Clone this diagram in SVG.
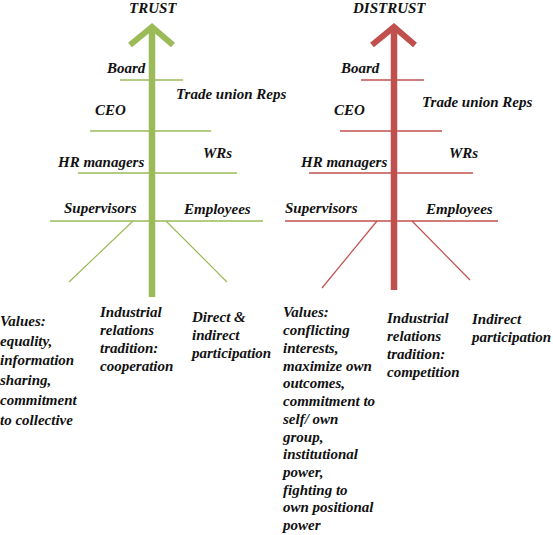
<svg xmlns="http://www.w3.org/2000/svg" width="553" height="535" viewBox="0 0 553 535">
<style>
text{font-family:"Liberation Serif","Times New Roman",serif;font-weight:bold;font-style:italic;font-size:15px;fill:#111}
.g{stroke:#9bbb59;fill:none}
.r{stroke:#c0504d;fill:none}
.shaft{stroke-width:6.5}
.head{stroke-width:6}
.thin{stroke-width:1.4}
.diag{stroke-width:1.2}
</style>
<rect width="553" height="535" fill="#fff"/>
<g id="connectors">
  <g id="trust-arrow" class="g">
    <line class="shaft" x1="152" y1="297" x2="152" y2="30"/>
    <polyline class="head" points="130,45 152,27 173,45"/>
    <line class="thin" x1="120" y1="80" x2="183" y2="80"/>
    <line class="thin" x1="90" y1="131" x2="211" y2="131"/>
    <line class="thin" x1="78" y1="173" x2="237" y2="173"/>
    <line class="thin" x1="50" y1="221" x2="263" y2="221"/>
    <line class="diag" x1="133" y1="221" x2="69" y2="282"/>
    <line class="diag" x1="166" y1="221" x2="227" y2="282"/>
  </g>
  <g id="distrust-arrow" class="r">
    <line class="shaft" x1="394" y1="290" x2="394" y2="30"/>
    <polyline class="head" points="372,45 394,27 415,45"/>
    <line class="thin" x1="361" y1="80" x2="424" y2="80"/>
    <line class="thin" x1="340" y1="131" x2="442" y2="131"/>
    <line class="thin" x1="309" y1="173" x2="473" y2="173"/>
    <line class="thin" x1="285" y1="221" x2="498" y2="221"/>
    <line class="diag" x1="377" y1="221" x2="322" y2="288"/>
    <line class="diag" x1="412" y1="221" x2="470" y2="280"/>
  </g>
</g>
<g id="trust-title"><text x="129" y="13">TRUST</text></g>
<g id="distrust-title"><text x="353" y="13">DISTRUST</text></g>
<g id="t-board"><text x="107" y="73">Board</text></g>
<g id="t-tu"><text x="176" y="99">Trade union Reps</text></g>
<g id="t-ceo"><text x="95" y="115">CEO</text></g>
<g id="t-wrs"><text x="203" y="158">WRs</text></g>
<g id="t-hr"><text x="58" y="167">HR managers</text></g>
<g id="t-sup"><text x="64" y="213">Supervisors</text></g>
<g id="t-emp"><text x="184" y="214">Employees</text></g>
<g id="d-board"><text x="341" y="73">Board</text></g>
<g id="d-tu"><text x="422" y="107">Trade union Reps</text></g>
<g id="d-ceo"><text x="334" y="115">CEO</text></g>
<g id="d-wrs"><text x="449" y="158">WRs</text></g>
<g id="d-hr"><text x="301" y="167">HR managers</text></g>
<g id="d-sup"><text x="285" y="213">Supervisors</text></g>
<g id="d-emp"><text x="426" y="214">Employees</text></g>
<g id="t-values"><text x="0" y="326"><tspan x="0" y="326">Values:</tspan><tspan x="0" y="346">equality,</tspan><tspan x="0" y="365">information</tspan><tspan x="0" y="385">sharing,</tspan><tspan x="0" y="405">commitment</tspan><tspan x="0" y="425">to collective</tspan></text></g>
<g id="t-ir"><text x="100" y="317"><tspan x="100" y="317">Industrial</tspan><tspan x="100" y="335">relations</tspan><tspan x="100" y="353">tradition:</tspan><tspan x="100" y="371">cooperation</tspan></text></g>
<g id="t-part"><text x="192" y="322"><tspan x="192" y="322">Direct &amp;</tspan><tspan x="192" y="340">indirect</tspan><tspan x="192" y="358">participation</tspan></text></g>
<g id="d-values"><text x="283" y="317"><tspan x="283" y="317">Values:</tspan><tspan x="283" y="335">conflicting</tspan><tspan x="283" y="353">interests,</tspan><tspan x="283" y="371">maximize own</tspan><tspan x="283" y="388">outcomes,</tspan><tspan x="283" y="406">commitment to</tspan><tspan x="283" y="424">self/ own</tspan><tspan x="283" y="442">group,</tspan><tspan x="283" y="459">institutional</tspan><tspan x="283" y="477">power,</tspan><tspan x="283" y="495">fighting to</tspan><tspan x="283" y="512">own positional</tspan><tspan x="283" y="530">power</tspan></text></g>
<g id="d-ir"><text x="387" y="323"><tspan x="387" y="323">Industrial</tspan><tspan x="387" y="341">relations</tspan><tspan x="387" y="359">tradition:</tspan><tspan x="387" y="377">competition</tspan></text></g>
<g id="d-part"><text x="472" y="324"><tspan x="472" y="324">Indirect</tspan><tspan x="472" y="342">participation</tspan></text></g>
</svg>
